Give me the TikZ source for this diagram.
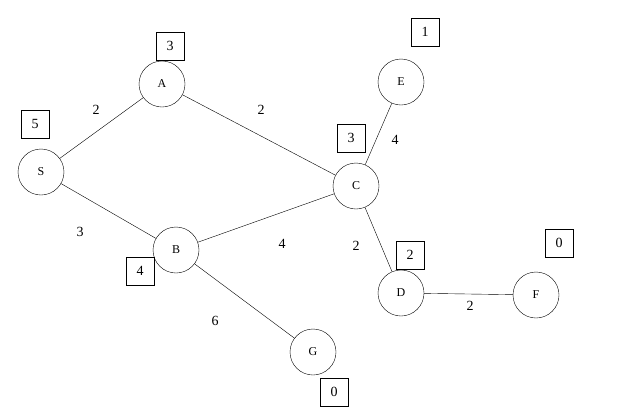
\documentclass[tikz,border=0pt]{standalone}
\usepackage{fontspec}
\setmainfont{Liberation Serif}
\begin{document}
\begin{tikzpicture}[x=1pt,y=-1pt,
 v/.style={circle,draw,minimum size=46pt,inner sep=0pt,font=\fontsize{12}{12}\selectfont},
 b/.style={draw,fill=white,minimum size=28pt,inner sep=0pt,font=\fontsize{14}{14}\selectfont},
 w/.style={font=\fontsize{14}{14}\selectfont}]
\useasboundingbox (0,0) rectangle (624,408);
\node[v] (S) at (41,172) {S};
\node[v] (A) at (162,84) {A};
\node[v] (E) at (401,82) {E};
\node[v] (C) at (356,186) {C};
\node[v] (B) at (176,250) {B};
\node[v] (D) at (401,293) {D};
\node[v] (F) at (536,295) {F};
\node[v] (G) at (313,352) {G};
\draw (S) -- (A); \draw (A) -- (C); \draw (C) -- (E); \draw (S) -- (B);
\draw (B) -- (C); \draw (C) -- (D); \draw (D) -- (F); \draw (B) -- (G);
\node[b] (bA) at (170,46) {3};
\node[b] (bS) at (35,124) {5};
\node[b] (bE) at (425,32) {1};
\node[b] (bC) at (351,138) {3};
\node[b] (bB) at (140,271) {4};
\node[b] (bD) at (410,255) {2};
\node[b] (bF) at (559,243) {0};
\node[b] (bG) at (334,392) {0};
\node[w] (l1) at (96,110) {2};
\node[w] (l2) at (261,110) {2};
\node[w] (l3) at (395,140) {4};
\node[w] (l4) at (80,232) {3};
\node[w] (l5) at (282,244) {4};
\node[w] (l6) at (356,246) {2};
\node[w] (l7) at (470,306) {2};
\node[w] (l8) at (215,321) {6};
\end{tikzpicture}
\end{document}
